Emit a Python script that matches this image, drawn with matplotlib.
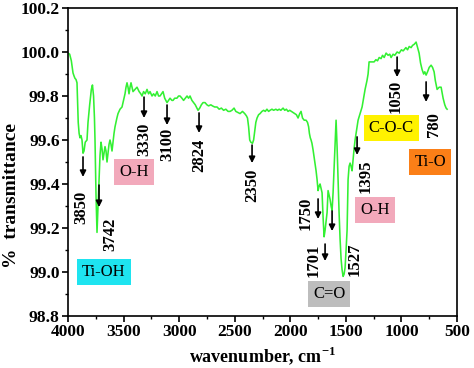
import matplotlib
matplotlib.use("Agg")
import matplotlib.pyplot as plt
from matplotlib.ticker import MultipleLocator, FormatStrFormatter

# FTIR spectrum
wavenumber = [4000, 3985, 3970, 3955, 3945, 3937, 3928, 3919, 3912, 3908,
              3900, 3892, 3883, 3874, 3865, 3856, 3845, 3829, 3820, 3805,
              3790, 3780, 3770, 3762, 3757, 3748, 3739, 3730, 3721, 3712,
              3703, 3694, 3685, 3676, 3667, 3658, 3649, 3640, 3631, 3622,
              3613, 3604, 3595, 3586, 3577, 3560, 3550, 3532, 3514, 3500,
              3487, 3478, 3469, 3460, 3451, 3442, 3433, 3424, 3415, 3397,
              3379, 3360, 3345, 3334, 3320, 3305, 3289, 3275, 3262, 3244,
              3230, 3215, 3199, 3185, 3172, 3158, 3145, 3130, 3109, 3095,
              3082, 3065, 3055, 3040, 3020, 3005, 2992, 2975, 2960, 2945,
              2929, 2915, 2902, 2885, 2870, 2855, 2840, 2830, 2815, 2800,
              2785, 2767, 2750, 2735, 2715, 2700, 2680, 2659, 2640, 2620,
              2600, 2580, 2560, 2542, 2525, 2506, 2490, 2470, 2452, 2430,
              2410, 2395, 2385, 2375, 2365, 2355, 2340, 2330, 2320, 2310,
              2299, 2285, 2272, 2255, 2240, 2225, 2210, 2195, 2182, 2165,
              2150, 2130, 2115, 2100, 2085, 2065, 2050, 2035, 2020, 2005,
              1990, 1975, 1960, 1945, 1930, 1915, 1903, 1890, 1875, 1858,
              1845, 1835, 1828, 1820, 1813, 1805, 1795, 1785, 1777, 1768,
              1759, 1750, 1741, 1732, 1723, 1714, 1705, 1696, 1687, 1678,
              1669, 1660, 1651, 1642, 1633, 1624, 1615, 1606, 1597, 1588,
              1579, 1570, 1561, 1552, 1543, 1534, 1525, 1516, 1507, 1498,
              1489, 1480, 1471, 1462, 1453, 1444, 1435, 1426, 1417, 1408,
              1399, 1390, 1372, 1354, 1340, 1327, 1310, 1300, 1291, 1270,
              1246, 1230, 1215, 1200, 1183, 1170, 1155, 1138, 1120, 1105,
              1093, 1075, 1060, 1039, 1020, 1000, 985, 976, 960, 945,
              930, 913, 900, 885, 868, 855, 841, 828, 814, 800,
              790, 778, 765, 750, 733, 720, 706, 695, 679, 660,
              643, 625, 610, 598, 589]
transmittance = [99.995, 99.99, 99.96, 99.905, 99.89, 99.88, 99.875, 99.86, 99.75, 99.68,
                 99.63, 99.61, 99.62, 99.60, 99.54, 99.55, 99.59, 99.60, 99.68, 99.76,
                 99.83, 99.85, 99.80, 99.70, 99.60, 99.35, 99.18, 99.30, 99.42, 99.53,
                 99.59, 99.56, 99.51, 99.54, 99.57, 99.55, 99.50, 99.54, 99.58, 99.60,
                 99.58, 99.55, 99.59, 99.63, 99.66, 99.70, 99.72, 99.74, 99.75, 99.78,
                 99.81, 99.84, 99.86, 99.84, 99.81, 99.84, 99.86, 99.84, 99.82, 99.83,
                 99.84, 99.82, 99.81, 99.80, 99.82, 99.81, 99.83, 99.81, 99.82, 99.80,
                 99.81, 99.80, 99.82, 99.80, 99.80, 99.81, 99.82, 99.79, 99.77, 99.78,
                 99.79, 99.78, 99.78, 99.79, 99.79, 99.80, 99.80, 99.79, 99.78, 99.79,
                 99.80, 99.79, 99.80, 99.78, 99.77, 99.76, 99.745, 99.735, 99.745, 99.76,
                 99.77, 99.77, 99.76, 99.755, 99.76, 99.755, 99.75, 99.75, 99.74, 99.745,
                 99.735, 99.74, 99.73, 99.73, 99.735, 99.745, 99.73, 99.725, 99.72, 99.73,
                 99.72, 99.71, 99.70, 99.66, 99.60, 99.59, 99.585, 99.60, 99.64, 99.68,
                 99.70, 99.715, 99.72, 99.73, 99.735, 99.73, 99.74, 99.73, 99.735, 99.74,
                 99.735, 99.74, 99.735, 99.74, 99.735, 99.745, 99.735, 99.74, 99.73, 99.735,
                 99.73, 99.725, 99.72, 99.715, 99.70, 99.72, 99.73, 99.70, 99.69, 99.69,
                 99.68, 99.66, 99.63, 99.61, 99.60, 99.585, 99.555, 99.52, 99.495, 99.46,
                 99.42, 99.37, 99.39, 99.40, 99.38, 99.36, 99.25, 99.16, 99.19, 99.23,
                 99.27, 99.37, 99.35, 99.33, 99.30, 99.28, 99.36, 99.47, 99.57, 99.69,
                 99.57, 99.42, 99.27, 99.15, 99.06, 99.01, 98.98, 98.99, 99.02, 99.10,
                 99.19, 99.42, 99.48, 99.495, 99.48, 99.46, 99.51, 99.56, 99.60, 99.63,
                 99.66, 99.69, 99.72, 99.75, 99.79, 99.83, 99.87, 99.90, 99.955, 99.955,
                 99.955, 99.965, 99.96, 99.975, 99.97, 99.985, 99.975, 99.995, 99.985, 99.99,
                 99.975, 99.99, 99.985, 100.0, 99.995, 100.01, 100.005, 100.01, 100.02, 100.01,
                 100.025, 100.02, 100.03, 100.035, 100.045, 100.02, 99.995, 99.95, 99.92, 99.90,
                 99.91, 99.895, 99.91, 99.93, 99.94, 99.93, 99.91, 99.87, 99.83, 99.84,
                 99.84, 99.79, 99.76, 99.745, 99.74]

# peak arrows: x, arrow start y, arrow end y
arrow_x = [3865, 3721, 3316, 3109, 2821, 2344, 1750, 1687, 1624, 1399, 1039, 778]
arrow_y0 = [99.523, 99.395, 99.795, 99.759, 99.723, 99.577, 99.332, 99.127, 99.277, 99.614, 99.977, 99.864]
arrow_y1 = [99.432, 99.295, 99.70, 99.668, 99.632, 99.495, 99.241, 99.05, 99.186, 99.532, 99.886, 99.773]

# peak labels (rotated)
peak_labels = ["3850", "3742", "3330", "3100", "2824", "2350", "1750", "1701", "1527", "1395", "1050", "780"]
peak_label_x = [3883, 3622, 3316, 3109, 2821, 2344, 1858, 1786, 1417, 1318, 1048, 706]
peak_label_y = [99.295, 99.173, 99.602, 99.582, 99.532, 99.395, 99.268, 99.055, 99.059, 99.436, 99.80, 99.668]

# group boxes
group_names = ["O-H", "Ti-OH", "C=O", "O-H", "C-O-C", "Ti-O"]
group_x = [3406, 3676, 1651, 1237, 1093, 742]
group_y = [99.455, 99.0, 98.9, 99.282, 99.655, 99.50]
group_colors = ["#f2a9bb", "#1ee4f0", "#bdbdbd", "#f2a9bb", "#fff200", "#fb7f17"]

plt.rcParams["font.family"] = ["Liberation Serif", "DejaVu Serif"]
plt.rcParams["mathtext.fontset"] = "custom"
plt.rcParams["mathtext.rm"] = "Liberation Serif"
plt.rcParams["mathtext.bf"] = "Liberation Serif:bold"

fig = plt.figure(figsize=(4.74, 3.68), dpi=100)
ax = fig.add_axes([68 / 474, 52 / 368, 389 / 474, 308 / 368])

ax.plot(wavenumber, transmittance, color="#33f033", lw=1.15)

for x, y0, y1 in zip(arrow_x, arrow_y0, arrow_y1):
    ax.annotate("", xy=(x, y1), xytext=(x, y0),
                arrowprops=dict(arrowstyle="-|>", color="black", lw=1.2,
                                mutation_scale=9, shrinkA=0, shrinkB=0))

for lab, x, y in zip(peak_labels, peak_label_x, peak_label_y):
    ax.text(x, y, lab, rotation=90, ha="center", va="center",
            fontsize=12, fontweight="bold")

for name, x, y, c in zip(group_names, group_x, group_y, group_colors):
    ax.text(x, y, name, ha="center", va="center", fontsize=12,
            bbox=dict(boxstyle="square,pad=0.3", fc=c, ec="none"))

ax.set_xlim(4000, 500)
ax.set_ylim(98.8, 100.2)
ax.xaxis.set_major_locator(MultipleLocator(500))
ax.xaxis.set_minor_locator(MultipleLocator(250))
ax.yaxis.set_major_locator(MultipleLocator(0.2))
ax.yaxis.set_minor_locator(MultipleLocator(0.1))
ax.yaxis.set_major_formatter(FormatStrFormatter("%.1f"))
ax.tick_params(which="major", direction="out", length=4, width=1.2, pad=2,
               labelsize=12.5, top=False, right=False)
ax.tick_params(which="minor", direction="out", length=2.5, width=1.0,
               top=False, right=False)
for t in ax.get_xticklabels() + ax.get_yticklabels():
    t.set_fontweight("bold")
for s in ax.spines.values():
    s.set_linewidth(1.2)

ax.set_xlabel("wavenumber, cm$^{\\mathbf{-1}}$", fontsize=13, fontweight="bold")
ax.xaxis.set_label_coords(0.5, -0.092)
# y label sits a bit below the axes centre in the reference
fig.text(12 / 474, 1 - 195 / 368, "%  transmittance", rotation=90,
         ha="center", va="center", fontsize=14, fontweight="bold")

fig.savefig("out.png", dpi=100)
